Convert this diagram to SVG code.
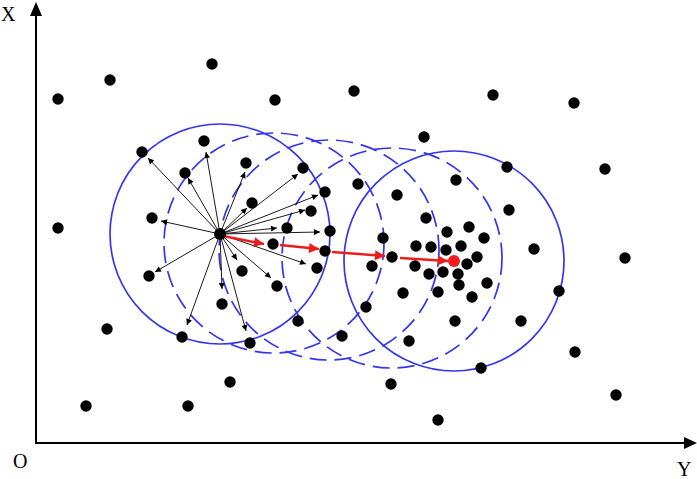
<svg xmlns="http://www.w3.org/2000/svg" width="697" height="479" viewBox="0 0 697 479">
<defs>
<style>
.ax{stroke:#000;stroke-width:2;fill:none}
.lbl{font-family:"Liberation Serif","Times New Roman",serif;font-size:20px;fill:#000}
.sc{fill:none;stroke:#3535ee;stroke-width:1.7}
.dc{fill:none;stroke:#3535ee;stroke-width:1.7;stroke-dasharray:17 8}
.ba{stroke:#000;stroke-width:0.9;fill:none;marker-end:url(#mb)}
.ra{stroke:#ee1c1c;stroke-width:2.4;fill:none;marker-end:url(#mr)}
.d circle{fill:#000}
</style>
<marker id="mb" viewBox="0 0 10 10" refX="10" refY="5" markerWidth="8" markerHeight="6" markerUnits="userSpaceOnUse" orient="auto"><path d="M0,0 L10,5 L0,10 z" fill="#000"/></marker>
<marker id="mr" viewBox="0 0 10 10" refX="10" refY="5" markerWidth="14" markerHeight="10" markerUnits="userSpaceOnUse" orient="auto"><path d="M0,0 L10,5 L0,10 z" fill="#ee1c1c"/></marker>
</defs>
<rect width="697" height="479" fill="#fff"/>
<g id="axes">
<line class="ax" x1="36" y1="444" x2="36" y2="12"/>
<polygon points="36,2 30,16 42,16" fill="#000"/>
<line class="ax" x1="35" y1="443" x2="686" y2="443"/>
<polygon points="697,443 684,437 684,449" fill="#000"/>
<text class="lbl" x="1" y="21">X</text>
<text class="lbl" x="13" y="468">O</text>
<text class="lbl" x="677" y="476">Y</text>
</g>
<g id="windows">
<circle id="win0" class="sc" cx="220" cy="234" r="110"/>
<circle id="win1" class="dc" cx="274" cy="243" r="110"/>
<circle id="win2" class="dc" cx="329" cy="250" r="110"/>
<circle id="win3" class="dc" cx="392" cy="258" r="110"/>
<circle id="win4" class="sc" cx="454" cy="261" r="110"/>
</g>
<g id="connectors">
<line class="ba" x1="220" y1="234" x2="148" y2="158"/>
<line class="ba" x1="220" y1="234" x2="206" y2="152"/>
<line class="ba" x1="220" y1="234" x2="188" y2="178"/>
<line class="ba" x1="220" y1="234" x2="245" y2="172"/>
<line class="ba" x1="220" y1="234" x2="247" y2="208"/>
<line class="ba" x1="220" y1="234" x2="298" y2="174"/>
<line class="ba" x1="220" y1="234" x2="318" y2="195"/>
<line class="ba" x1="220" y1="234" x2="305" y2="210"/>
<line class="ba" x1="220" y1="234" x2="277" y2="228"/>
<line class="ba" x1="220" y1="234" x2="320" y2="232"/>
<line class="ba" x1="220" y1="234" x2="161" y2="221"/>
<line class="ba" x1="220" y1="234" x2="155" y2="272"/>
<line class="ba" x1="220" y1="234" x2="187" y2="325"/>
<line class="ba" x1="220" y1="234" x2="222" y2="289"/>
<line class="ba" x1="220" y1="234" x2="237" y2="260"/>
<line class="ba" x1="220" y1="234" x2="246" y2="331"/>
<line class="ba" x1="220" y1="234" x2="271" y2="278"/>
<line class="ba" x1="220" y1="234" x2="306" y2="264"/>
<line class="ra" x1="223" y1="236" x2="264" y2="244"/>
<line class="ra" x1="280" y1="245" x2="319" y2="249"/>
<line class="ra" x1="332" y1="252" x2="385" y2="256"/>
<line class="ra" x1="400" y1="258" x2="448" y2="261"/>
</g>
<g id="points" class="d">
<circle cx="58" cy="99" r="5.7"/><circle cx="110" cy="80" r="5.7"/><circle cx="212" cy="64" r="5.7"/><circle cx="275" cy="100" r="5.7"/><circle cx="354" cy="91" r="5.7"/><circle cx="493" cy="95" r="5.7"/><circle cx="574" cy="103" r="5.7"/><circle cx="424" cy="137" r="5.7"/><circle cx="142" cy="152" r="5.7"/><circle cx="204" cy="141" r="5.7"/><circle cx="246" cy="163" r="5.7"/><circle cx="185" cy="173" r="5.7"/><circle cx="303" cy="168" r="5.7"/><circle cx="325" cy="192" r="5.7"/><circle cx="358" cy="184" r="5.7"/><circle cx="397" cy="195" r="5.7"/><circle cx="456" cy="180" r="5.7"/><circle cx="507" cy="167" r="5.7"/><circle cx="605" cy="169" r="5.7"/><circle cx="58" cy="228" r="5.7"/><circle cx="152" cy="218" r="5.7"/><circle cx="252" cy="203" r="5.7"/><circle cx="311" cy="211" r="5.7"/><circle cx="287" cy="228" r="5.7"/><circle cx="330" cy="231" r="5.7"/><circle cx="273" cy="244" r="5.7"/><circle cx="325" cy="251" r="5.7"/><circle cx="317" cy="268" r="5.7"/><circle cx="242" cy="271" r="5.7"/><circle cx="149" cy="276" r="5.7"/><circle cx="277" cy="286" r="5.7"/><circle cx="222" cy="304" r="5.7"/><circle cx="298" cy="321" r="5.7"/><circle cx="182" cy="337" r="5.7"/><circle cx="250" cy="343" r="5.7"/><circle cx="107" cy="329" r="5.7"/><circle cx="383" cy="238" r="5.7"/><circle cx="372" cy="266" r="5.7"/><circle cx="392" cy="257" r="5.7"/><circle cx="426" cy="218" r="5.7"/><circle cx="509" cy="210" r="5.7"/><circle cx="534" cy="249" r="5.7"/><circle cx="625" cy="258" r="5.7"/><circle cx="559" cy="291" r="5.7"/><circle cx="521" cy="321" r="5.7"/><circle cx="455" cy="321" r="5.7"/><circle cx="409" cy="341" r="5.7"/><circle cx="366" cy="307" r="5.7"/><circle cx="342" cy="336" r="5.7"/><circle cx="481" cy="368" r="5.7"/><circle cx="575" cy="352" r="5.7"/><circle cx="391" cy="384" r="5.7"/><circle cx="230" cy="382" r="5.7"/><circle cx="86" cy="406" r="5.7"/><circle cx="188" cy="406" r="5.7"/><circle cx="438" cy="420" r="5.7"/><circle cx="616" cy="395" r="5.7"/><circle cx="403" cy="293" r="5.7"/>
<circle cx="447" cy="232" r="5.7"/><circle cx="469" cy="227" r="5.7"/><circle cx="484" cy="238" r="5.7"/><circle cx="416" cy="246" r="5.7"/><circle cx="431" cy="247" r="5.7"/><circle cx="446" cy="250" r="5.7"/><circle cx="461" cy="246" r="5.7"/><circle cx="477" cy="257" r="5.7"/><circle cx="415" cy="266" r="5.7"/><circle cx="467" cy="264" r="5.7"/><circle cx="429" cy="274" r="5.7"/><circle cx="443" cy="272" r="5.7"/><circle cx="458" cy="274" r="5.7"/><circle cx="459" cy="285" r="5.7"/><circle cx="487" cy="283" r="5.7"/><circle cx="438" cy="292" r="5.7"/><circle cx="472" cy="297" r="5.7"/>
</g>
<g id="start"><circle cx="220" cy="234" r="6" fill="#000"/></g>
<g id="mode"><circle cx="454" cy="261" r="6" fill="#ee1c1c"/></g>
</svg>
